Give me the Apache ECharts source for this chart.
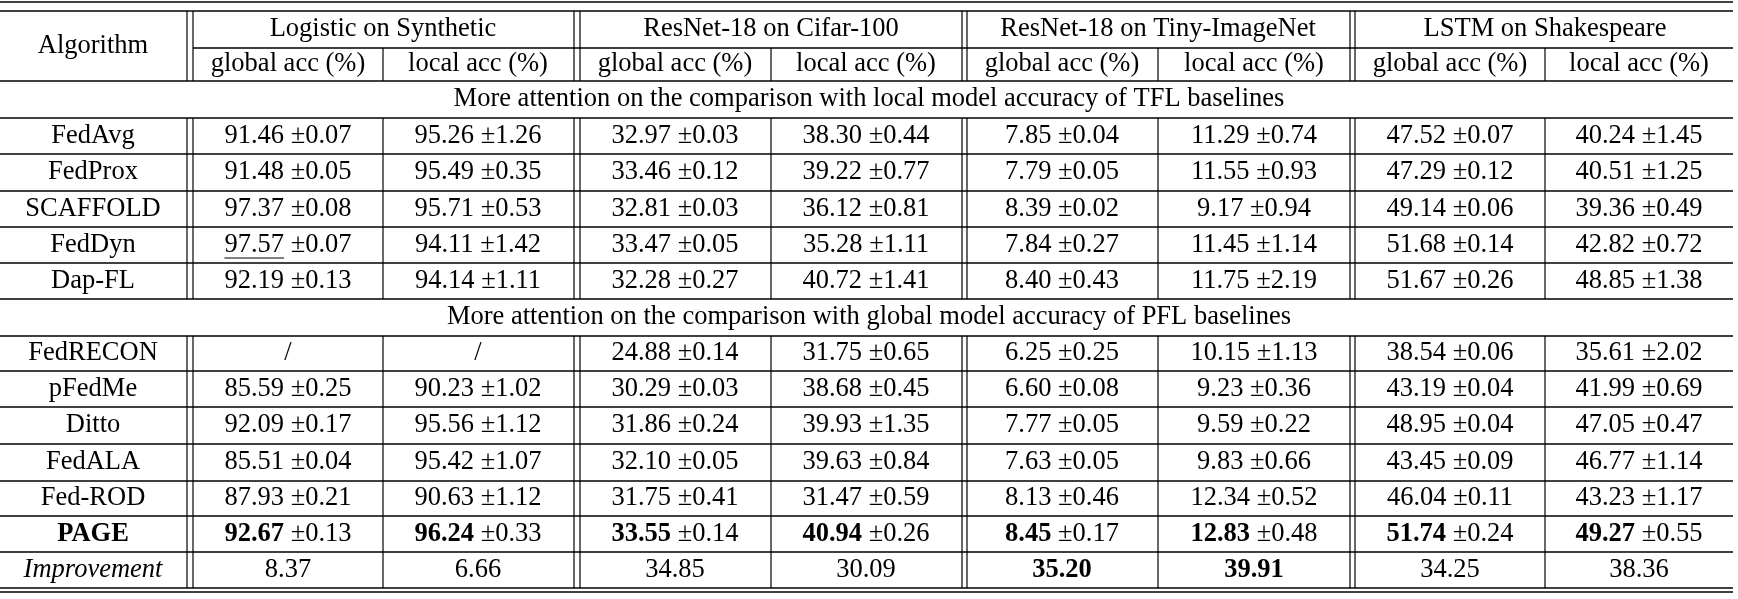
<!DOCTYPE html>
<html>
<head>
<meta charset="utf-8">
<script src="https://cdn.jsdelivr.net/npm/echarts@6/dist/echarts.min.js"></script>
<style>html,body{margin:0;padding:0;background:#fff}#chart{width:1738px;height:599px}</style>
</head>
<body>
<div id="chart"></div>
<script>
const groups = ['Logistic on Synthetic', 'ResNet-18 on Cifar-100', 'ResNet-18 on Tiny-ImageNet', 'LSTM on Shakespeare']
const subHeaders = ['global acc (%)', 'local acc (%)']
const sections = [
  'More attention on the comparison with local model accuracy of TFL baselines',
  'More attention on the comparison with global model accuracy of PFL baselines'
]
const tflAlgorithms = ['FedAvg', 'FedProx', 'SCAFFOLD', 'FedDyn', 'Dap-FL']
const tflValues = [
  [['91.46', '0.07'], ['95.26', '1.26'], ['32.97', '0.03'], ['38.30', '0.44'], ['7.85', '0.04'], ['11.29', '0.74'], ['47.52', '0.07'], ['40.24', '1.45']],
  [['91.48', '0.05'], ['95.49', '0.35'], ['33.46', '0.12'], ['39.22', '0.77'], ['7.79', '0.05'], ['11.55', '0.93'], ['47.29', '0.12'], ['40.51', '1.25']],
  [['97.37', '0.08'], ['95.71', '0.53'], ['32.81', '0.03'], ['36.12', '0.81'], ['8.39', '0.02'], ['9.17', '0.94'], ['49.14', '0.06'], ['39.36', '0.49']],
  [['97.57', '0.07'], ['94.11', '1.42'], ['33.47', '0.05'], ['35.28', '1.11'], ['7.84', '0.27'], ['11.45', '1.14'], ['51.68', '0.14'], ['42.82', '0.72']],
  [['92.19', '0.13'], ['94.14', '1.11'], ['32.28', '0.27'], ['40.72', '1.41'], ['8.40', '0.43'], ['11.75', '2.19'], ['51.67', '0.26'], ['48.85', '1.38']]
]
const pflAlgorithms = ['FedRECON', 'pFedMe', 'Ditto', 'FedALA', 'Fed-ROD']
const pflValues = [
  [['/', ''], ['/', ''], ['24.88', '0.14'], ['31.75', '0.65'], ['6.25', '0.25'], ['10.15', '1.13'], ['38.54', '0.06'], ['35.61', '2.02']],
  [['85.59', '0.25'], ['90.23', '1.02'], ['30.29', '0.03'], ['38.68', '0.45'], ['6.60', '0.08'], ['9.23', '0.36'], ['43.19', '0.04'], ['41.99', '0.69']],
  [['92.09', '0.17'], ['95.56', '1.12'], ['31.86', '0.24'], ['39.93', '1.35'], ['7.77', '0.05'], ['9.59', '0.22'], ['48.95', '0.04'], ['47.05', '0.47']],
  [['85.51', '0.04'], ['95.42', '1.07'], ['32.10', '0.05'], ['39.63', '0.84'], ['7.63', '0.05'], ['9.83', '0.66'], ['43.45', '0.09'], ['46.77', '1.14']],
  [['87.93', '0.21'], ['90.63', '1.12'], ['31.75', '0.41'], ['31.47', '0.59'], ['8.13', '0.46'], ['12.34', '0.52'], ['46.04', '0.11'], ['43.23', '1.17']]
]
const oursName = 'PAGE'
const oursValues = [['92.67', '0.13'], ['96.24', '0.33'], ['33.55', '0.14'], ['40.94', '0.26'], ['8.45', '0.17'], ['12.83', '0.48'], ['51.74', '0.24'], ['49.27', '0.55']]
const improvementName = 'Improvement'
const improvementValues = ['8.37', '6.66', '34.85', '30.09', '35.20', '39.91', '34.25', '38.36']
const improvementBold = [false, false, false, false, true, true, false, false]
const underlined = [['FedDyn', 0]]

// layout (pixels)
const W = 1738, H = 599
const FONT = '"Liberation Serif", "DejaVu Serif", serif'
const FS = 26.5
const colCenters = [93, 288, 478, 675, 866, 1062, 1254, 1450, 1639]
const groupCenters = [383, 771, 1158, 1545]
const rowEdges = [11, 48, 81, 118, 154, 191, 227, 263, 299, 336, 371, 407, 444, 481, 516, 552, 588]
const innerX = [383, 771, 1158, 1545]
const doubleX = [[187, 193], [574, 580], [962, 967], [1350, 1355]]

const texts = []
const mid = (i) => (rowEdges[i] + rowEdges[i + 1]) / 2
texts.push({ x: colCenters[0], y: (rowEdges[0] + rowEdges[2]) / 2, t: 'Algorithm' })
groups.forEach((g, i) => texts.push({ x: groupCenters[i], y: mid(0), t: g }))
for (let c = 0; c < 8; c++) texts.push({ x: colCenters[c + 1], y: mid(1), t: subHeaders[c % 2] })
texts.push({ x: W / 2, y: mid(2), t: sections[0] })
texts.push({ x: W / 2, y: mid(8), t: sections[1] })
const addRow = (r, name, vals, bold) => {
  texts.push({ x: colCenters[0], y: mid(r), t: name, bold })
  vals.forEach((v, c) => {
    const under = underlined.some(([n, k]) => n === name && k === c)
    texts.push({ x: colCenters[c + 1], y: mid(r), t: v[1] ? `{${bold ? 'b' : 'n'}|${v[0]}} ±${v[1]}` : v[0], rich: true, under })
  })
}
tflAlgorithms.forEach((n, i) => addRow(3 + i, n, tflValues[i], false))
pflAlgorithms.forEach((n, i) => addRow(9 + i, n, pflValues[i], false))
addRow(14, oursName, oursValues, true)
texts.push({ x: colCenters[0], y: mid(15), t: improvementName, italic: true })
improvementValues.forEach((v, c) => texts.push({ x: colCenters[c + 1], y: mid(15), t: v, bold: improvementBold[c] }))

// line segments
const segs = []
const hLine = (y, x0 = 0, x1 = 1733, w = 1.3) => segs.push([x0, y, x1, y, w])
const vLine = (x, y0, y1) => segs.push([x, y0, x, y1, 1.2])
hLine(2, 0, 1733, 1.6)
rowEdges.forEach((y, i) => { if (i !== 1) hLine(y) })
hLine(48, 193)
hLine(592, 0, 1733, 1.6)
const dataSpans = [[rowEdges[3], rowEdges[8]], [rowEdges[9], rowEdges[16]]]
doubleX.forEach(([a, b]) => {
  [[rowEdges[0], rowEdges[2]], ...dataSpans].forEach(([y0, y1]) => { vLine(a, y0, y1); vLine(b, y0, y1) })
})
innerX.forEach((x) => {
  [[rowEdges[1], rowEdges[2]], ...dataSpans].forEach(([y0, y1]) => vLine(x, y0, y1))
})

const chart = echarts.init(document.getElementById('chart'))
chart.setOption({
  animation: false,
  grid: { left: 0, right: 0, top: 0, bottom: 0 },
  xAxis: { type: 'value', min: 0, max: W, show: false },
  yAxis: { type: 'value', min: 0, max: H, inverse: true, show: false },
  series: [
    {
      type: 'custom',
      data: segs,
      renderItem: (params, api) => {
        const p0 = api.coord([api.value(0), api.value(1)])
        const p1 = api.coord([api.value(2), api.value(3)])
        return { type: 'line', shape: { x1: p0[0], y1: p0[1], x2: p1[0], y2: p1[1] }, style: { stroke: '#000', lineWidth: api.value(4) } }
      }
    },
    {
      type: 'custom',
      data: texts.map((d) => [d.x, d.y]),
      renderItem: (params, api) => {
        const d = texts[params.dataIndex]
        const p = api.coord([api.value(0), api.value(1)])
        const children = [{
          type: 'text',
          x: p[0], y: p[1],
          style: {
            text: d.t,
            font: `${d.italic ? 'italic ' : ''}${d.bold ? 'bold ' : ''}${FS}px ${FONT}`,
            fill: '#000', align: 'center', verticalAlign: 'middle',
            rich: d.rich ? {
              b: { fontFamily: FONT, fontSize: FS, fontWeight: 'bold', fill: '#000' },
              n: { fontFamily: FONT, fontSize: FS, fill: '#000' }
            } : undefined
          }
        }]
        if (d.under) {
          const full = FS * 4.8, num = FS * 2.25
          children.push({ type: 'line', shape: { x1: p[0] - full / 2, y1: p[1] + 13, x2: p[0] - full / 2 + num, y2: p[1] + 13 }, style: { stroke: '#000', lineWidth: 1 } })
        }
        return { type: 'group', children }
      }
    }
  ]
})
</script>
</body>
</html>
